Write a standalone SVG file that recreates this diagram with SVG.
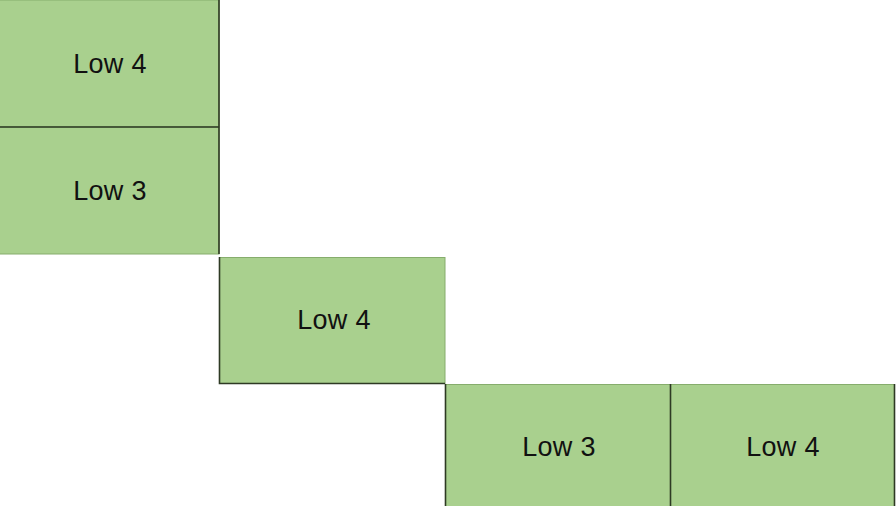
<svg xmlns="http://www.w3.org/2000/svg" width="896" height="506" viewBox="0 0 896 506">
<style>
.box{fill:#a9d08e;stroke:#86ad6c;stroke-width:1}
.dark{stroke:#2e3a24;stroke-width:1.6;fill:none}
.lbl{font-family:"Liberation Sans",Arial,sans-serif;font-size:27px;letter-spacing:0.3px;fill:#111;text-anchor:middle;dominant-baseline:central}
</style>
<rect width="896" height="506" fill="#ffffff"/>
<g id="n1"><rect class="box" x="-1" y="0" width="220" height="127"/><text class="lbl" x="110" y="64">Low 4</text></g>
<g id="n2"><rect class="box" x="-1" y="127" width="220" height="127"/><text class="lbl" x="110" y="191">Low 3</text></g>
<g id="n3"><rect class="box" x="219.5" y="257.5" width="225.5" height="126"/><text class="lbl" x="334" y="320">Low 4</text></g>
<g id="n4"><rect class="box" x="445.5" y="384.5" width="225" height="123"/><text class="lbl" x="559" y="447">Low 3</text></g>
<g id="n5"><rect class="box" x="670.5" y="384.5" width="224" height="123"/><text class="lbl" x="783" y="447">Low 4</text></g>
<g id="edges">
<path class="dark" d="M219 0V254M0 127H219M219.5 257V383.5H445M445.5 384V506M670.5 384V506M894.5 384V506"/>
</g>
</svg>
